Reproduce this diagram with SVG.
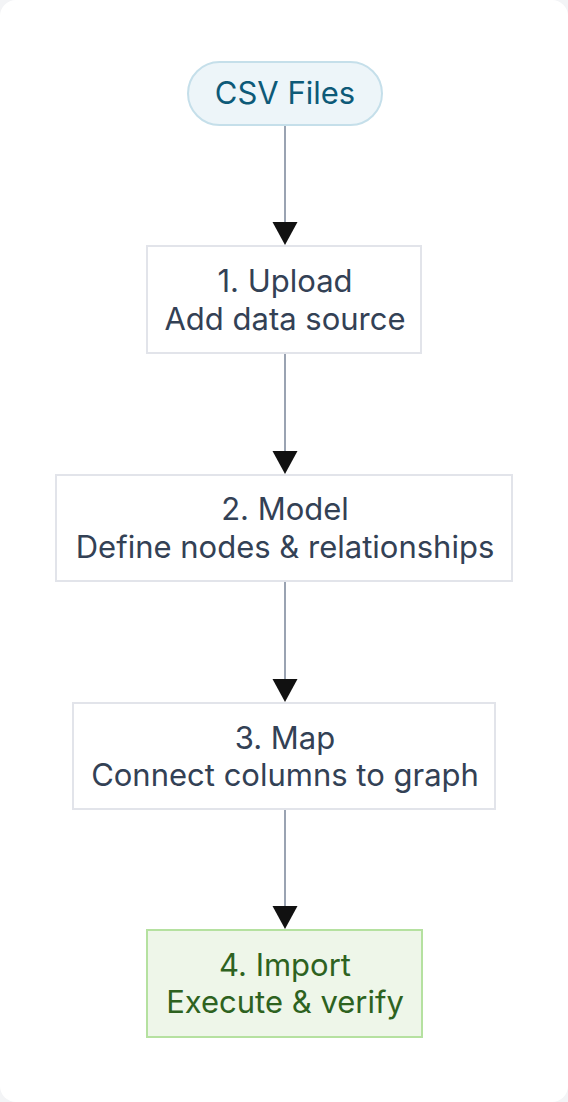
<svg xmlns="http://www.w3.org/2000/svg" width="568" height="1102" viewBox="0 0 568 1102">
<style>
.t{font-family:Inter,"Noto Sans","Liberation Sans",sans-serif;font-size:31px;text-anchor:middle;fill:#334155}
.box{fill:#ffffff;stroke:#e2e4ea;stroke-width:2}
.edge{stroke:#9aa3b2;stroke-width:2;fill:none}
.head{fill:#111111}
</style>
<rect x="0" y="0" width="568" height="1102" fill="#f3f4f6"/>
<rect x="0" y="0" width="568" height="1102" rx="16" fill="#ffffff"/>
<g id="connectors">
<path class="edge" d="M285,125 V222"/>
<polygon class="head" points="272.5,222 297.5,222 285,245"/>
<path class="edge" d="M285,354 V451"/>
<polygon class="head" points="272.5,451 297.5,451 285,474"/>
<path class="edge" d="M285,582 V679"/>
<polygon class="head" points="272.5,679 297.5,679 285,702"/>
<path class="edge" d="M285,810 V906"/>
<polygon class="head" points="272.5,906 297.5,906 285,929"/>
</g>
<g id="csv">
<rect x="188" y="62" width="194" height="63" rx="31.5" fill="#edf5f9" stroke="#c5dfea" stroke-width="2"/>
<text class="t" x="285" y="104" style="fill:#0d5a78">CSV Files</text>
</g>
<g id="upload">
<rect class="box" x="147" y="246" width="274" height="107"/>
<text class="t" x="285" y="292">1. Upload</text>
<text class="t" x="285" y="330">Add data source</text>
</g>
<g id="model">
<rect class="box" x="56" y="475" width="456" height="106"/>
<text class="t" x="285" y="520">2. Model</text>
<text class="t" x="285" y="558">Define nodes &amp; relationships</text>
</g>
<g id="map">
<rect class="box" x="73" y="703" width="422" height="106"/>
<text class="t" x="285" y="749">3. Map</text>
<text class="t" x="285" y="786">Connect columns to graph</text>
</g>
<g id="import">
<rect x="147" y="930" width="275" height="107" fill="#eef6e9" stroke="#b5e1a0" stroke-width="2"/>
<text class="t" x="285" y="976" style="fill:#2d6220">4. Import</text>
<text class="t" x="285" y="1013" style="fill:#2d6220">Execute &amp; verify</text>
</g>
</svg>
